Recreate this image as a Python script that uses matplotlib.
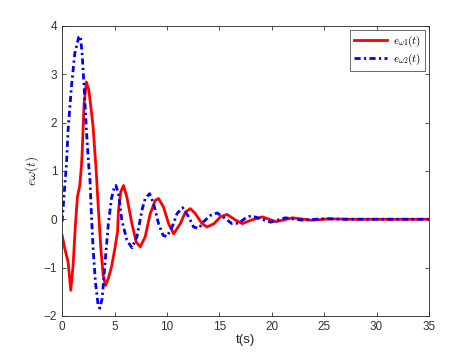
import numpy as np
import matplotlib
matplotlib.use('Agg')
import matplotlib.pyplot as plt

# values
t_red = [0, 0.26, 0.57, 0.83, 1.05, 1.27, 1.46, 1.69, 1.85, 1.91, 2.1, 2.32, 2.55, 2.74,
         2.96, 3.18, 3.22, 3.44, 3.7, 3.92, 4.14, 4.4, 4.71, 5.03, 5.29, 5.38, 5.6, 5.86,
         6.18, 6.66, 7.07, 7.46, 7.93, 8.41, 8.89, 9.2, 9.68, 10.16, 10.64, 11.28, 11.76,
         12.24, 12.7, 13.35, 13.83, 14.5, 15.1, 15.74, 16.5, 17.2, 18.0, 19.1, 20.4, 22.0,
         23.8, 25.5, 27.5, 30, 35]
e_red = [-0.33, -0.61, -0.88, -1.47, -0.95, -0.12, 0.46, 0.70, 1.12, 1.36, 2.40, 2.84,
         2.67, 2.33, 1.91, 1.22, 1.12, 0.29, -0.61, -1.16, -1.37, -1.23, -0.99, -0.61,
         -0.26, 0.19, 0.57, 0.70, 0.46, -0.09, -0.47, -0.57, -0.36, 0.12, 0.39, 0.43, 0.25,
         -0.09, -0.30, -0.09, 0.15, 0.22, 0.12, -0.09, -0.16, -0.09, 0.05, 0.10, -0.01,
         -0.09, -0.02, 0.05, -0.05, 0.03, -0.02, 0.01, 0.0, 0.0, 0.0]

t_blue = [0, 0.26, 0.41, 0.57, 0.89, 1.21, 1.59, 1.75, 1.91, 2.1, 2.32, 2.55, 2.64, 2.8,
          2.96, 3.18, 3.44, 3.6, 3.82, 4.08, 4.4, 4.71, 5.03, 5.13, 5.38, 5.7, 6.18, 6.66,
          7.14, 7.62, 7.93, 8.35, 8.73, 9.2, 9.63, 10.0, 10.5, 10.97, 11.5, 12.07, 12.55,
          13.03, 13.5, 14.15, 14.8, 15.6, 16.2, 16.86, 17.65, 18.1, 19.9, 21.3, 23.0, 24.8,
          27, 30, 35]
e_blue = [-0.05, 0.70, 1.12, 1.84, 2.74, 3.43, 3.77, 3.79, 3.43, 2.74, 1.84, 1.08, 0.91,
          0.08, -0.61, -1.30, -1.78, -1.84, -1.64, -0.95, -0.12, 0.43, 0.70, 0.70, 0.53,
          -0.02, -0.43, -0.59, -0.36, 0.19, 0.43, 0.53, 0.32, -0.09, -0.33, -0.36, -0.16,
          0.12, 0.24, 0.05, -0.16, -0.19, -0.05, 0.08, 0.13, 0.01, -0.09, -0.08, 0.05, 0.07,
          -0.06, 0.03, -0.02, 0.01, 0.0, 0.0, 0.0]

plt.rcParams['font.family'] = ['Liberation Sans', 'DejaVu Sans']
plt.rcParams['mathtext.fontset'] = 'cm'

fig = plt.figure(figsize=(4.74, 3.55), dpi=100)
ax = fig.add_axes([0.131, 0.110, 0.774, 0.817])

ax.plot(t_red, e_red, color='red', lw=2, label=r'$e_{\omega 1}(t)$')
ax.plot(t_blue, e_blue, color='blue', lw=2, ls=(0, (2.2, 1.2, 0.8, 1.2)),
        label=r'$e_{\omega 2}(t)$')

ax.set_xlim(0, 35)
ax.set_ylim(-2, 4)
ax.set_xticks(np.arange(0, 36, 5))
ax.set_yticks(np.arange(-2, 5, 1))
ax.tick_params(direction='in', top=True, right=True, labelsize=8.5, colors='#333333',
               length=3, width=0.6)
for s in ax.spines.values():
    s.set_linewidth(0.6)
    s.set_color('#262626')

ax.set_xlabel('t(s)', fontsize=9.5, color='#262626', labelpad=1)
ax.set_ylabel(r'$e\omega(t)$', fontsize=9.5, color='#262626', labelpad=2)

leg = ax.legend(loc='upper right', fontsize=8, fancybox=False, edgecolor='#262626',
                handlelength=3.0, handletextpad=0.5, borderaxespad=0.35,
                labelspacing=0.25, borderpad=0.35)
leg.get_frame().set_linewidth(0.6)

fig.savefig('out.png', dpi=100)
